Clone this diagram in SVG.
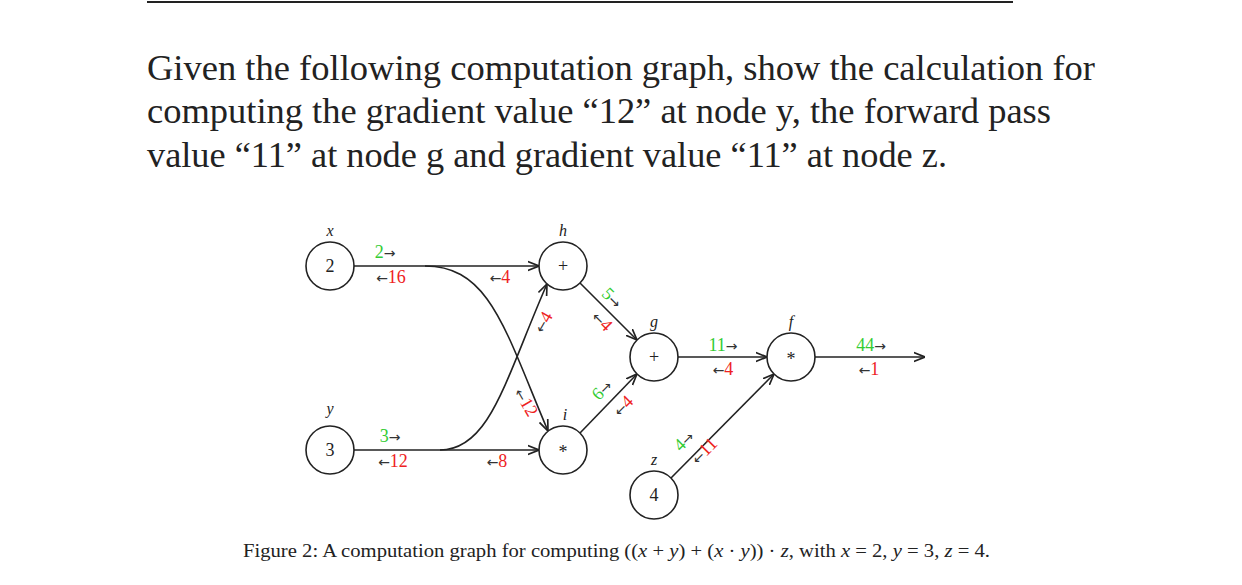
<svg xmlns="http://www.w3.org/2000/svg" width="1242" height="585" viewBox="0 0 1242 585">
<style>
.t{font-family:"Liberation Serif","Times New Roman",serif;fill:#222}
.n{fill:#fff;stroke:#222;stroke-width:1.6}
.e{fill:none;stroke:#222;stroke-width:1.6;marker-end:url(#a)}
.lb{font-family:"Liberation Serif",serif;font-size:18px;fill:#222;text-anchor:middle}
.ar{font-family:"DejaVu Sans",sans-serif;font-size:14px;fill:#333}
.g{fill:#3c3}
.r{fill:#e22}
.v{font-family:"Liberation Serif",serif;font-size:16px;font-style:italic;fill:#222;text-anchor:middle}
.c{font-family:"Liberation Serif",serif;font-size:18px;fill:#222;text-anchor:middle}
</style>
<defs><marker id="a" viewBox="0 0 10 10" refX="10" refY="5" markerWidth="7" markerHeight="7" orient="auto"><path d="M0,1 L10,5 L0,9" fill="none" stroke="#222" stroke-width="1.5"/></marker></defs>
<rect width="1242" height="585" fill="#fff"/>
<line x1="147" y1="2" x2="1013" y2="2" stroke="#222" stroke-width="2"/>
<text class="t" font-size="35" x="147" y="80" textLength="948" lengthAdjust="spacingAndGlyphs">Given the following computation graph, show the calculation for</text>
<text class="t" font-size="35" x="147" y="123" textLength="904" lengthAdjust="spacingAndGlyphs">computing the gradient value “12” at node y, the forward pass</text>
<text class="t" font-size="35" x="147" y="167" textLength="800" lengthAdjust="spacingAndGlyphs">value “11” at node g and gradient value “11” at node z.</text>
<g id="connectors">
<line class="e" x1="354" y1="266" x2="539" y2="266"/>
<line class="e" x1="354" y1="450" x2="539" y2="450"/>
<path class="e" d="M425,266 C490,266 505,330 548,431"/>
<path class="e" d="M440,450 C490,450 505,380 547,284"/>
<line class="e" x1="580" y1="283" x2="637" y2="340"/>
<line class="e" x1="580" y1="433" x2="637" y2="374"/>
<line class="e" x1="678" y1="357" x2="767" y2="357"/>
<line class="e" x1="671" y1="478" x2="774" y2="374"/>
<line class="e" x1="815" y1="357" x2="925" y2="357"/>
<text class="lb" x="385" y="258"><tspan class="g">2</tspan><tspan class="ar">→</tspan></text>
<text class="lb" x="391" y="283"><tspan class="ar">←</tspan><tspan class="r">16</tspan></text>
<text class="lb" x="500" y="283"><tspan class="ar">←</tspan><tspan class="r">4</tspan></text>
<text class="lb" x="390" y="442"><tspan class="g">3</tspan><tspan class="ar">→</tspan></text>
<text class="lb" x="393" y="467"><tspan class="ar">←</tspan><tspan class="r">12</tspan></text>
<text class="lb" x="497" y="467"><tspan class="ar">←</tspan><tspan class="r">8</tspan></text>
<text class="lb" transform="translate(548,325) rotate(-60)"><tspan class="ar">←</tspan><tspan class="r">4</tspan></text>
<text class="lb" transform="translate(521,405) rotate(60)"><tspan class="ar">←</tspan><tspan class="r">12</tspan></text>
<text class="lb" transform="translate(608,302) rotate(45)"><tspan class="g">5</tspan><tspan class="ar">→</tspan></text>
<text class="lb" transform="translate(598,325) rotate(45)"><tspan class="ar">←</tspan><tspan class="r">4</tspan></text>
<text class="lb" transform="translate(606,394) rotate(-45)"><tspan class="g">6</tspan><tspan class="ar">→</tspan></text>
<text class="lb" transform="translate(627,410) rotate(-45)"><tspan class="ar">←</tspan><tspan class="r">4</tspan></text>
<text class="lb" transform="translate(688,445) rotate(-45)"><tspan class="g">4</tspan><tspan class="ar">→</tspan></text>
<text class="lb" transform="translate(708,455) rotate(-45)"><tspan class="ar">←</tspan><tspan class="r">11</tspan></text>
<text class="lb" x="723" y="351"><tspan class="g">11</tspan><tspan class="ar">→</tspan></text>
<text class="lb" x="723" y="375"><tspan class="ar">←</tspan><tspan class="r">4</tspan></text>
<text class="lb" x="871" y="351"><tspan class="g">44</tspan><tspan class="ar">→</tspan></text>
<text class="lb" x="869" y="375"><tspan class="ar">←</tspan><tspan class="r">1</tspan></text>
</g>
<g id="node-x"><circle class="n" cx="330" cy="266" r="24"/><text class="c" x="330" y="272">2</text><text class="v" x="330" y="236">x</text></g>
<g id="node-y"><circle class="n" cx="330" cy="450" r="24"/><text class="c" x="330" y="456">3</text><text class="v" x="330" y="414">y</text></g>
<g id="node-h"><circle class="n" cx="563" cy="266" r="24"/><text class="c" x="563" y="272">+</text><text class="v" x="563" y="236">h</text></g>
<g id="node-i"><circle class="n" cx="563" cy="450" r="24"/><text class="c" x="563" y="458">*</text><text class="v" x="565" y="420">i</text></g>
<g id="node-g"><circle class="n" cx="654" cy="357" r="24"/><text class="c" x="654" y="363">+</text><text class="v" x="654" y="327">g</text></g>
<g id="node-f"><circle class="n" cx="791" cy="357" r="24"/><text class="c" x="791" y="365">*</text><text class="v" x="791" y="327">f</text></g>
<g id="node-z"><circle class="n" cx="654" cy="495" r="24"/><text class="c" x="654" y="501">4</text><text class="v" x="654" y="465">z</text></g>
<text font-family="Liberation Serif,serif" font-size="19" fill="#222" x="243" y="557" textLength="747" lengthAdjust="spacingAndGlyphs">Figure 2: A computation graph for computing ((<tspan font-style="italic">x</tspan> + <tspan font-style="italic">y</tspan>) + (<tspan font-style="italic">x</tspan> · <tspan font-style="italic">y</tspan>)) · <tspan font-style="italic">z</tspan>, with <tspan font-style="italic">x</tspan> = 2, <tspan font-style="italic">y</tspan> = 3, <tspan font-style="italic">z</tspan> = 4.</text>
</svg>
